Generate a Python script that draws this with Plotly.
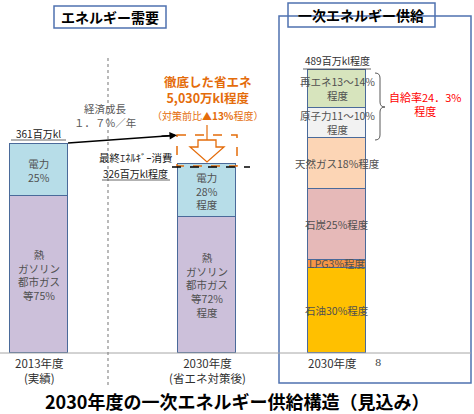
import plotly.graph_objects as go

# demand side (final energy consumption, million kl)
demand_labels = ["2013年度<br>(実績)", "2030年度<br>(省エネ対策後)"]
demand_total = [361, 326]
power_share = [25, 28]
heat_share = [75, 72]
power_text = ["電力<br>25%", "電力<br>28%<br>程度"]
heat_text = ["熱<br>ガソリン<br>都市ガス<br>等75%", "熱<br>ガソリン<br>都市ガス<br>等72%<br>程度"]
total_text = ["361百万kl", "326百万kl程度"]

# supply side (primary energy, million kl), bottom to top
supply_label = "2030年度"
supply_total = 489
supply_names = ["石油30%程度", "LPG3%程度", "石炭25%程度", "天然ガス18%程度",
                "原子力11～10%<br>程度", "再エネ13～14%<br>程度"]
supply_share = [30, 3, 25, 18, 10.5, 13.5]
supply_colors = ["#ffc000", "#f79646", "#e6b9b8", "#fcd5b5", "#f2f2f2", "#d7e4bd"]

W, H = 474, 414
BASE = 353          # pixel row of the zero line
SCALE = 0.579       # pixels per million kl
FONT = "Noto Sans CJK JP"
EDGE = "#4a6a9a"
ORANGE = "#e46c0a"

demand_x = [39, 207]
supply_x = 337
bar_w = 58

fig = go.Figure()

power_vals = [t * p / 100 for t, p in zip(demand_total, power_share)]
heat_vals = [t * h / 100 for t, h in zip(demand_total, heat_share)]

fig.add_trace(go.Bar(x=demand_x, y=heat_vals, width=bar_w,
                     marker=dict(color="#ccc0da", line=dict(color=EDGE, width=1.3)),
                     hoverinfo="skip"))
fig.add_trace(go.Bar(x=demand_x, y=power_vals, width=bar_w,
                     marker=dict(color="#b7dde8", line=dict(color=EDGE, width=1.3)),
                     hoverinfo="skip"))

annotations = []


def label(x, y, text, size=11, color="#404040", yref="y2", bold=False, **kw):
    if bold:
        text = "<b>" + text + "</b>"
    annotations.append(dict(x=x, y=y, xref="x", yref=yref, text=text, showarrow=False,
                            font=dict(family=FONT, size=size, color=color),
                            xanchor=kw.pop("xanchor", "center"),
                            yanchor=kw.pop("yanchor", "middle"), **kw))


for i in range(2):
    label(demand_x[i], heat_vals[i] / 2, heat_text[i], size=10.5, color="#505050", yref="y")
    label(demand_x[i], heat_vals[i] + power_vals[i] / 2, power_text[i], size=10.5,
          color="#505050", yref="y")

cum = 0
for name, share, col in zip(supply_names, supply_share, supply_colors):
    v = supply_total * share / 100
    fig.add_trace(go.Bar(x=[supply_x], y=[v], width=bar_w,
                         marker=dict(color=col, line=dict(color=EDGE, width=1.3)),
                         hoverinfo="skip"))
    label(supply_x, cum + v / 2, name, size=10.5, color="#505050", yref="y")
    cum += v

shapes = []


def line(x0, y0, x1, y1, color, width=1, dash="solid"):
    shapes.append(dict(type="line", xref="x", yref="y2", x0=x0, y0=y0, x1=x1, y1=y1,
                       line=dict(color=color, width=width, dash=dash)))


def rect(x0, y0, x1, y1, color, width=1.5, fill="white", dash="solid"):
    shapes.append(dict(type="rect", xref="x", yref="y2", x0=x0, y0=y0, x1=x1, y1=y1,
                       fillcolor=fill, line=dict(color=color, width=width, dash=dash),
                       layer="above" if fill == "rgba(0,0,0,0)" else "below"))


# right panel frame and title boxes
rect(279, 16, 471, 383, "#4f72b0", width=1.5, fill="rgba(0,0,0,0)")
rect(288, 3, 435, 27, "#4f72b0", width=1.5)
rect(54, 6, 166, 28, "#4f72b0", width=1.5)
# zero line and separator
line(0, BASE, 471, BASE, "#a6a6a6", 1)
line(108, 58, 108, 386, "#8c8c8c", 1.2, "dot")
# totals underlines
line(11, 140, 66, 140, "#404040", 0.8)
line(102, 180, 170, 180, "#404040", 0.8)
line(303, 69, 371, 69, "#404040", 0.8)
# growth arrow
line(68, 143, 173, 135.5, "black", 1.5)
annotations.append(dict(x=177, y=135.2, ax=160, ay=136.4, xref="x", yref="y2",
                        axref="x", ayref="y2", text="", showarrow=True, arrowhead=2,
                        arrowsize=1, arrowwidth=1.5, arrowcolor="black"))
# savings box, hollow arrow and target line
rect(177, 135, 237, 166, ORANGE, width=1.5, fill="rgba(0,0,0,0)", dash="dash")
shapes.append(dict(type="path", xref="x", yref="y2",
                   path="M 198 140 L 216 140 L 216 147 L 224 147 L 207 162 L 190 147 "
                        "L 198 147 Z",
                   fillcolor="white", line=dict(color=ORANGE, width=1.3), layer="above"))
line(207, 125, 207, 140, ORANGE, 1.2)
line(172, 167, 250, 167, "black", 1.5, "dash")
# brace for self-sufficiency
shapes.append(dict(type="path", xref="x", yref="y2",
                   path="M 375 73 Q 380 73 380 78 L 380 102 Q 380 107 385 107 "
                        "Q 380 107 380 112 L 380 135 Q 380 140 375 140",
                   line=dict(color="#595959", width=1)))

# texts
label(110, 17, "エネルギー需要", size=14, color="black", bold=True)
label(361, 15, "一次エネルギー供給", size=14, color="black", bold=True)
label(38, 133, total_text[0], size=10, color="#202020")
label(135, 173, total_text[1], size=10, color="#202020")
label(136, 157, "最終ｴﾈﾙｷﾞｰ消費", size=10.5, color="#202020")
label(337, 60, f"{supply_total}百万kl程度", size=10, color="#303030")
label(72, 115, "経済成長<br>１．７%／年", size=10.5, color="#595959", xanchor="left")
label(207, 97, "<b>徹底した省エネ<br>5,030万kl程度</b><br>"
               "<span style='font-size:10px'>（対策前比<b>▲13%</b>程度）</span>",
      size=12.5, color=ORANGE)
label(425, 104, "自給率24．3%<br>程度", size=11, color="#ff0000")
for i in range(2):
    label(demand_x[i], 370, demand_labels[i], size=11.5, color="#303030")
label(332, 363, supply_label, size=11.5, color="#303030")
label(378, 362, "8", size=10, color="#404040")
annotations[-1]["font"]["family"] = "DejaVu Serif"
label(237, 401, "2030年度の一次エネルギー供給構造（見込み）", size=18, color="black", bold=True)

fig.update_layout(
    width=W, height=H, margin=dict(l=0, r=0, t=0, b=0),
    paper_bgcolor="white", plot_bgcolor="white",
    barmode="stack", showlegend=False, bargap=0,
    xaxis=dict(range=[0, W], visible=False, fixedrange=True),
    yaxis=dict(range=[-(H - BASE) / SCALE, BASE / SCALE], visible=False, fixedrange=True),
    yaxis2=dict(range=[H, 0], overlaying="y", visible=False, fixedrange=True),
    shapes=shapes, annotations=annotations,
)

fig.write_html("out.html", config={"displayModeBar": False},
               post_script="document.body.style.margin='0';document.body.style.overflow='hidden';")
